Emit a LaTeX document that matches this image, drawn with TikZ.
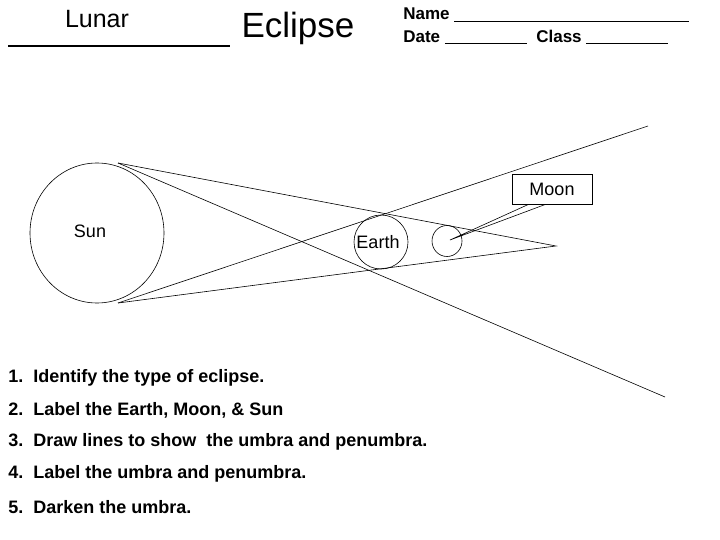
\documentclass[tikz,border=0pt]{standalone}
\usepackage{fontspec}
\setmainfont{Liberation Sans}
\usetikzlibrary{shapes.geometric,calc}
\begin{document}
\begin{tikzpicture}[x=1pt,y=-1pt,line width=0.6pt,
  lbl/.style={font=\fontsize{18}{20}\selectfont,inner sep=0pt},
  item/.style={font=\fontsize{18}{20}\selectfont\bfseries,anchor=west,inner sep=0pt},
  hdr/.style={font=\fontsize{17}{19}\selectfont\bfseries,anchor=west,inner sep=0pt}]
\path[use as bounding box] (0,0) rectangle (720,540);
% title
\node[font=\fontsize{25}{27}\selectfont,inner sep=0pt] (lunar) at (97,19) {Lunar};
\draw[line width=1.6pt] (8,46) coordinate (u1) -- (230,46) coordinate (u2);
\node[font=\fontsize{35}{37}\selectfont,inner sep=0pt] (ecl) at (298,28) {Eclipse};
\node[hdr] (name) at (403,15) {Name \rule[-2pt]{235pt}{1.2pt}};
\node[hdr] (date) at (403,37) {Date \rule[-2pt]{82pt}{1.2pt}\ \ Class \rule[-2pt]{82pt}{1.2pt}};
% bodies
\draw (97,233) ellipse [x radius=67, y radius=70];
\node[lbl] (sun) at (90,231) {Sun};
\node[draw,circle,minimum size=54pt,inner sep=0pt] (earth) at (381,242) {};
\node[lbl] (et) at (378,242) {Earth};
\node[draw,ellipse,minimum width=30pt,minimum height=31pt,inner sep=0pt] (moon) at (447,241) {};
\coordinate (mc) at (450,240);
\node[draw,lbl,minimum width=80pt,minimum height=30pt] (mbox) at (552,189) {Moon};
\coordinate (c1) at ($(mbox.south west)+(17,0)$);
\coordinate (c2) at ($(mbox.south west)+(34,0)$);
\draw (c1) -- (mc) -- (c2);
% rays
\coordinate (st) at (118,163);
\coordinate (sb) at (118,303);
\coordinate (apex) at (556,246);
\coordinate (e1) at (665,397);
\coordinate (e2) at (648,126);
\draw (st) -- (apex) -- (sb);
\draw (st) -- (e1);
\draw (sb) -- (e2);
% list
\node[item] (i1) at (8,378) {1.\ \ Identify the type of eclipse.};
\node[item] (i2) at (8,410) {2.\ \ Label the Earth, Moon, \& Sun};
\node[item] (i3) at (8,442) {3.\ \ Draw lines to show\ \ the umbra and penumbra.};
\node[item] (i4) at (8,474) {4.\ \ Label the umbra and penumbra.};
\node[item] (i5) at (8,507) {5.\ \ Darken the umbra.};
\end{tikzpicture}
\end{document}
